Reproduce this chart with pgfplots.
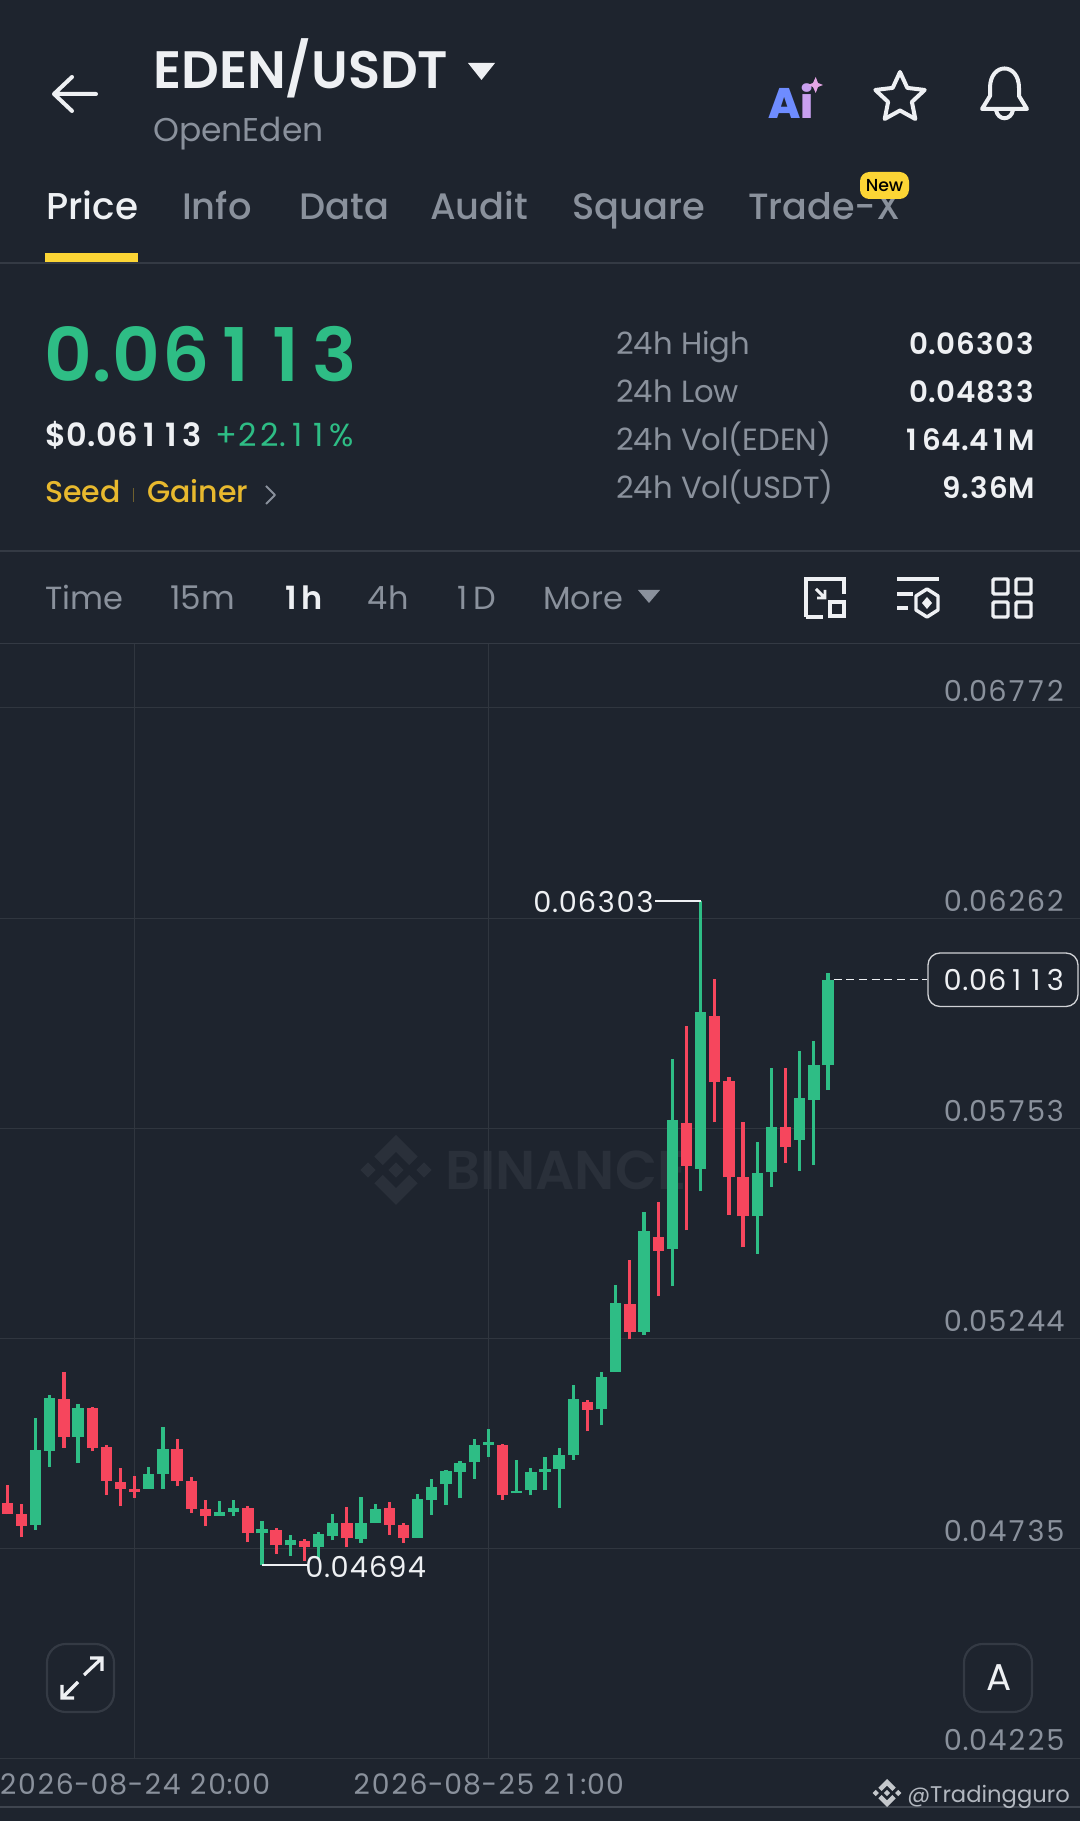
\documentclass[border=0pt]{standalone}
\usepackage{pgfplots}
\usepackage{pgfplotstable}
\usepackage{fontspec}
\pgfplotsset{compat=1.18}
\setmainfont[BoldFont={Poppins SemiBold}]{Poppins}
\newfontfamily\med{Poppins Medium}
\newfontfamily\xb{Poppins ExtraBold}
\definecolor{bg}{HTML}{1E242E}
\definecolor{cgreen}{HTML}{2EBD85}
\definecolor{cred}{HTML}{F6465D}
\definecolor{gridc}{HTML}{30363F}
\definecolor{rulec}{HTML}{343A44}
\definecolor{tgrey}{HTML}{8A919C}
\definecolor{twhite}{HTML}{EEF0F3}
\definecolor{wm}{HTML}{2A303A}
\definecolor{gold}{HTML}{E8B92E}
\definecolor{yel}{HTML}{FCD535}
\definecolor{aiblue}{HTML}{6E8CFF}
\definecolor{aipink}{HTML}{C9A0F0}
\definecolor{spark}{HTML}{E5A5E5}
\newcommand\fs[1]{\fontsize{#1pt}{#1pt}\selectfont}
% evenly spaced figures, as in the reference
\makeatletter
\protected\def\tnum#1{\@tfor\tn@c:=#1\do{\expandafter\tn@@\tn@c\relax}}
\def\tn@@#1\relax{\ifnum`#1>47 \ifnum`#1<58 \makebox[.67em][c]{#1}\else #1\fi\else #1\fi}
\makeatother
% size, colour, x, baseline y, text
\newcommand\TL[5]{\node[anchor=base west,inner sep=0pt,text=#2] at (#3,#4) {\fs{#1}#5};}
\newcommand\TR[5]{\node[anchor=base east,inner sep=0pt,text=#2] at (#3,#4) {\fs{#1}#5};}
\newcommand\binlogo[4]{%
 \begin{scope}[shift={(#1,#2)},x=#3*0.75pt,y=-#3*0.75pt]
 \fill[#4] (0,1)--(.62,.38)--(.38,.14)--(0,.52)--(-.38,.14)--(-.62,.38)--cycle;
 \fill[#4] (0,-1)--(.62,-.38)--(.38,-.14)--(0,-.52)--(-.38,-.14)--(-.62,-.38)--cycle;
 \fill[#4] (0,.22)--(.22,0)--(0,-.22)--(-.22,0)--cycle;
 \fill[#4] (.8,.22)--(1.02,0)--(.8,-.22)--(.58,0)--cycle;
 \fill[#4] (-.8,.22)--(-1.02,0)--(-.8,-.22)--(-.58,0)--cycle;
 \end{scope}}
\pgfplotstableread{
i h t b l
2 0.05051 0.04972 0.04792 0.04780
3 0.05107 0.05099 0.04971 0.04933
5 0.05085 0.05076 0.05005 0.04942
10 0.04932 0.04916 0.04879 0.04879
11 0.05030 0.04975 0.04916 0.04878
15 0.04849 0.04823 0.04814 0.04814
16 0.04853 0.04833 0.04824 0.04814
18 0.04800 0.04782 0.04771 0.04694
20 0.04766 0.04754 0.04742 0.04717
22 0.04774 0.04769 0.04737 0.04708
23 0.04819 0.04797 0.04765 0.04754
25 0.04860 0.04796 0.04758 0.04748
26 0.04842 0.04829 0.04796 0.04796
29 0.04867 0.04855 0.04761 0.04761
30 0.04904 0.04883 0.04853 0.04816
31 0.04925 0.04921 0.04890 0.04841
32 0.04947 0.04941 0.04920 0.04856
33 0.05000 0.04984 0.04943 0.04904
34 0.05025 0.04992 0.04986 0.04957
36 0.04948 0.04874 0.04868 0.04868
37 0.04930 0.04919 0.04875 0.04863
38 0.04955 0.04928 0.04920 0.04875
39 0.04979 0.04961 0.04927 0.04832
40 0.05131 0.05096 0.04961 0.04950
42 0.05161 0.05151 0.05072 0.05033
43 0.05373 0.05329 0.05163 0.05163
45 0.05550 0.05504 0.05260 0.05252
47 0.05920 0.05773 0.05461 0.05370
49 0.06303 0.06035 0.05655 0.05600
53 0.05720 0.05644 0.05539 0.05449
54 0.05899 0.05756 0.05646 0.05611
56 0.05941 0.05825 0.05724 0.05650
57 0.05963 0.05906 0.05822 0.05664
58 0.06129 0.06113 0.05906 0.05845
}\greentbl
\pgfplotstableread{
i h t b l
0 0.04888 0.04845 0.04818 0.04817
1 0.04843 0.04819 0.04790 0.04762
4 0.05161 0.05097 0.05004 0.04979
6 0.05078 0.05076 0.04979 0.04970
7 0.04984 0.04980 0.04899 0.04865
8 0.04930 0.04896 0.04878 0.04837
9 0.04910 0.04879 0.04871 0.04857
12 0.04999 0.04975 0.04898 0.04885
13 0.04908 0.04899 0.04829 0.04821
14 0.04852 0.04830 0.04813 0.04788
17 0.04837 0.04833 0.04771 0.04750
19 0.04784 0.04780 0.04742 0.04721
21 0.04758 0.04753 0.04738 0.04705
24 0.04836 0.04796 0.04759 0.04737
27 0.04848 0.04833 0.04791 0.04768
28 0.04797 0.04791 0.04760 0.04748
35 0.04987 0.04984 0.04865 0.04853
41 0.05095 0.05089 0.05071 0.05018
44 0.05433 0.05326 0.05260 0.05241
46 0.05573 0.05490 0.05456 0.05346
48 0.06001 0.05765 0.05662 0.05505
50 0.06115 0.06025 0.05864 0.05767
51 0.05876 0.05867 0.05634 0.05542
52 0.05768 0.05634 0.05539 0.05464
55 0.05899 0.05755 0.05707 0.05668
}\redtbl
\begin{document}
\begin{tikzpicture}
\begin{scope}[x=0.75pt,y=-0.75pt,yshift=1365.75pt]
\fill[bg] (0,0) rectangle (1080,1821);
% watermark
\binlogo{396}{1170}{35}{wm}
\node[anchor=base west,inner sep=0pt,text=wm] at (445,1190) {\fs{41}\bfseries BINANCE};
\end{scope}
\begin{axis}[
 at={(0pt,46.725pt)},anchor=south west,scale only axis,
 width=810pt,height=836.25pt,
 xmin=-0.516,xmax=75.81,ymin=0.04225,ymax=0.06927,
 axis line style={draw=none},
 major tick length=0pt,
 scaled y ticks=false,scaled x ticks=false,
 grid=major,grid style={gridc,line width=0.9pt},
 xtick={9,34},xticklabels={\tnum{2026-08-24}\ \tnum{20:00},\tnum{2026-08-25}\ \tnum{21:00}},
 ytick={0.04225,0.04735,0.05244,0.05753,0.06262,0.06772},
 yticklabels={\raisebox{1.5pt}{\tnum{0.04225}},\tnum{0.04735},\tnum{0.05244},\tnum{0.05753},\tnum{0.06262},\tnum{0.06772}},
 yticklabel pos=right,
 yticklabel style={anchor=south east,inner sep=0pt,xshift=-11pt,yshift=4.6pt,text=tgrey,font=\fs{21.6}},
 xticklabel style={anchor=base,inner sep=0pt,yshift=-27pt,text=tgrey,font=\fs{21.2}},
 clip=false,
]
\addplot[draw=none,mark=none,forget plot,error bars/.cd,y dir=plus,y explicit,error mark=none,
 error bar style={draw=cgreen,solid,line width=2.4pt}]
 table[x=i,y=l,y error plus expr=\thisrow{h}-\thisrow{l},y error minus expr=0]{\greentbl};
\addplot[draw=none,mark=none,forget plot,error bars/.cd,y dir=plus,y explicit,error mark=none,
 error bar style={draw=cred,solid,line width=2.4pt}]
 table[x=i,y=l,y error plus expr=\thisrow{h}-\thisrow{l},y error minus expr=0]{\redtbl};
\addplot[draw=none,mark=none,forget plot,error bars/.cd,y dir=plus,y explicit,error mark=none,
 error bar style={draw=cgreen,solid,line width=8.5pt}]
 table[x=i,y=b,y error plus expr=\thisrow{t}-\thisrow{b},y error minus expr=0]{\greentbl};
\addplot[draw=none,mark=none,forget plot,error bars/.cd,y dir=plus,y explicit,error mark=none,
 error bar style={draw=cred,solid,line width=8.5pt}]
 table[x=i,y=b,y error plus expr=\thisrow{t}-\thisrow{b},y error minus expr=0]{\redtbl};
% high / low leaders and last price
\addplot[twhite,line width=1.1pt,forget plot] coordinates {(49,0.06303)(45.77,0.06303)};
\addplot[twhite,line width=1.1pt,forget plot] coordinates {(18,0.04694)(21.25,0.04694)};
\addplot[twhite,line width=1pt,dash pattern=on 6pt off 3.5pt,forget plot] coordinates {(58.4,0.06113)(65,0.06113)};
\node[anchor=east,inner sep=0pt,text=twhite,yshift=-0.6pt] at (axis cs:45.77,0.06303) {\fs{21.6}\tnum{0.06303}};
\node[anchor=west,inner sep=0pt,text=twhite,yshift=-1.5pt] at (axis cs:21,0.04694) {\fs{21.6}\tnum{0.04694}};
\end{axis}
\begin{scope}[x=0.75pt,y=-0.75pt,yshift=1365.75pt]
% price box
\draw[draw=twhite!85!bg,line width=1pt,fill=bg,rounded corners=9pt] (928,953) rectangle (1078,1006.5);
\node[text=twhite,inner sep=0pt] at (1004,980) {\fs{21.6}\tnum{0.06113}};
% header
\draw[twhite,line width=3pt,line cap=round,line join=round] (96,94)--(54,94) (72,77)--(54,94)--(72,111);
\TL{39.5}{twhite}{153}{89}{\bfseries EDEN/USDT}
\fill[twhite] (468,63)--(495,63)--(481.5,80)--cycle;
\TL{24.7}{tgrey}{153}{142}{OpenEden}
% Ai, star, bell
\node[anchor=base west,inner sep=0pt] at (768,119) {\fs{32}\xb\textcolor{aiblue}{A}\textcolor{aipink}{i}};
\fill[spark] (815.7,77)--(818,83)--(823,85)--(818,87)--(815.7,93)--(813,87)--(808,85)--(813,83)--cycle;
\draw[twhite,line width=3pt,line join=round] (900,72)--(907.3,87.9)--(924.7,90)--(911.9,101.9)--(915.3,119)--(900,110.5)--(884.7,119)--(888.1,101.9)--(875.3,90)--(892.7,87.9)--cycle;
\draw[twhite,line width=3pt,line join=round] (982,109)--(990,96)--(990,88) .. controls (990,62) and (1019,62) .. (1019,88)--(1019,96)--(1027,109)--cycle;
\draw[twhite,line width=3pt] (996,110) .. controls (998,121) and (1011,121) .. (1013,110);
% tabs
\TL{28}{twhite}{46}{220}{\med Price}
\TL{27.6}{tgrey}{182}{220}{\med Info}
\TL{27.6}{tgrey}{299}{220}{\med Data}
\TL{27.6}{tgrey}{430}{220}{\med Audit}
\TL{27.6}{tgrey}{572}{220}{\med Square}
\TL{27.4}{tgrey}{748}{220}{\med Trade-X}
\fill[yel,rounded corners=7pt] (860,172) rectangle (909,199);
\node[text=black,inner sep=0pt] at (884.5,186) {\fs{13}\med New};
\fill[yel] (45,253) rectangle (138,262);
\draw[rulec,line width=1.2pt] (0,263)--(1080,263);
% price block
\TL{55.5}{cgreen}{43}{382}{\bfseries \tnum{0.06113}}
\TL{24}{twhite}{45}{447}{\bfseries \$\tnum{0.06113}}
\TL{24}{cgreen}{215}{447}{+\tnum{22.11}\%}
\TL{22.5}{gold}{45}{503}{\med Seed}
\fill[gold!40!bg] (132.5,488) rectangle (134,502);
\TL{22.5}{gold}{147}{503}{\med Gainer}
\draw[tgrey,line width=1.4pt,line join=round] (266,486)--(275,495)--(266,504);
\TL{23}{tgrey}{616}{355}{24h High}
\TL{23}{tgrey}{616}{403}{24h Low}
\TL{23}{tgrey}{616}{451}{24h Vol(EDEN)}
\TL{23}{tgrey}{616}{499}{24h Vol(USDT)}
\TR{22}{twhite}{1035}{355}{\bfseries\tnum{0.06303}}
\TR{22}{twhite}{1035}{403}{\bfseries\tnum{0.04833}}
\TR{22}{twhite}{1035}{451}{\bfseries\tnum{164.41}M}
\TR{22}{twhite}{1035}{499}{\bfseries\tnum{9.36}M}
\draw[rulec,line width=1.2pt] (0,551)--(1080,551);
% interval row
\TL{24}{tgrey}{45}{610}{Time}
\TL{24.5}{tgrey}{170}{610}{15m}
\TL{24}{twhite}{280}{610}{\bfseries\tnum{1}h}
\TL{24}{tgrey}{367}{610}{\tnum{4}h}
\TL{24}{tgrey}{452}{610}{\tnum{1}D}
\TL{24}{tgrey}{543}{610}{More}
\fill[tgrey] (638,590)--(660,590)--(649,603)--cycle;
% icon 1
\draw[twhite,line width=2.6pt] (806,617)--(806,579)--(844,579)--(844,594);
\draw[twhite,line width=2.6pt] (830,602) rectangle (844,616);
\draw[twhite,line width=2.2pt] (816,589)--(825,598) (825,590)--(825,598)--(817,598);
\draw[twhite,line width=2.6pt] (806,617)--(823,617);
% icon 2
\draw[twhite,line width=2.6pt] (897,579)--(939,579) (897,594)--(913,594) (897,608)--(908,608);
\draw[twhite,line width=2.6pt,line join=round] (927,589)--(938,596)--(938,610)--(927,617)--(916,610)--(916,596)--cycle;
\fill[twhite] (927,597)--(932,603)--(927,609)--(922,603)--cycle;
% icon 3
\foreach \x in {993,1016}{\foreach \y in {579,602}{\draw[twhite,line width=2.6pt,rounded corners=1pt] (\x,\y) rectangle ++(15,15);}}
\draw[rulec,line width=1.2pt] (0,643.7)--(1080,643.7);
% buttons
\draw[rulec,line width=1.6pt,rounded corners=14pt] (47,1644) rectangle (114,1712);
\draw[rulec,line width=1.6pt,rounded corners=14pt] (964,1644) rectangle (1032,1712);
\draw[twhite,line width=2.4pt] (84,1675)--(101,1659) (90,1658)--(102,1658)--(102,1671);
\draw[twhite,line width=2.4pt] (78,1682)--(62,1698) (62,1685)--(62,1698)--(74,1698);
\node[text=twhite,inner sep=0pt] at (999,1678) {\fs{28}A};
% footer
\draw[rulec!150!bg,line width=1.6pt] (0,1807)--(1080,1807);
\binlogo{887}{1793}{14}{twhite!80!bg}
\TL{17}{tgrey!60!twhite}{907}{1803}{@Tradingguro}
\end{scope}
\pgfresetboundingbox
\path[use as bounding box] (0pt,0pt) rectangle (810pt,1365.75pt);
\end{tikzpicture}
\end{document}
